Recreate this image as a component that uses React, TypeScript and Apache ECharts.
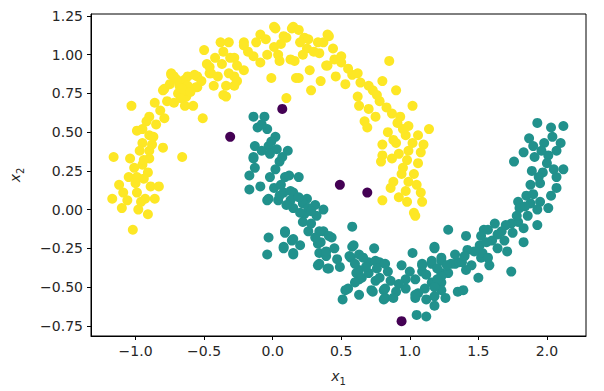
import React, { useEffect, useRef } from "react";
import * as echarts from "echarts";

const xTicks = [-1.0, -0.5, 0.0, 0.5, 1.0, 1.5, 2.0];
const yTicks = [-0.75, -0.5, -0.25, 0.0, 0.25, 0.5, 0.75, 1.0, 1.25];

const classColors = ["#440154", "#21918c", "#fde725"];

const outliers: number[][] = [
  [-0.31, 0.47], [0.07, 0.65], [0.49, 0.16], [0.69, 0.11], [0.94, -0.72],
];

const upperMoon: number[][] = [
  [-1.02, -0.13], [-0.91, -0.03], [-1.1, 0.01], [-1.17, 0.07], [-1.09, 0.11], [-0.99, 0.11], [-0.93, 0.07],
  [-0.89, 0.15], [-0.83, 0.15], [-1.05, 0.21], [-0.99, 0.21], [-0.91, 0.24], [-1.01, 0.27], [-1.04, 0.33],
  [-1.16, 0.34], [-0.9, 0.33], [-0.9, 0.38], [-0.8, 0.4], [-0.66, 0.34], [-0.95, 0.43], [-0.9, 0.48],
  [-0.99, 0.51], [-0.92, 0.57], [-0.9, 0.6], [-0.79, 0.59], [-1.03, 0.67], [-0.86, 0.69], [-0.51, 0.59],
  [-0.8, 0.77], [-0.72, 0.69], [-0.64, 0.67], [-0.58, 0.67], [-0.74, 0.87], [-0.68, 0.8], [-0.63, 0.73],
  [-0.55, 0.79], [-0.62, 0.86], [-0.46, 0.88], [-0.87, 0.47], [-0.97, 0.38], [-0.96, 0.05], [-0.95, 0.29],
  [0.1, 0.72], [0.28, 0.77], [0.17, 0.85], [-0.01, 0.85], [0.27, 0.9], [0.39, 0.93], [-0.5, 1.03],
  [-0.38, 1.08], [-0.32, 1.08], [-0.21, 1.08], [-0.09, 1.13], [0.01, 1.18], [0.15, 1.18], [0.08, 1.12],
  [0.41, 1.12], [0.25, 1.04], [0.37, 1.08], [0.22, 1.0], [0.13, 0.97], [0.04, 1.0], [-0.09, 0.95],
  [-0.14, 0.99], [-0.21, 0.9], [-0.28, 0.86], [-0.34, 0.73], [-0.28, 0.8], [-0.43, 0.8], [-0.45, 0.88],
  [-0.56, 0.79], [-0.69, 0.75], [-0.79, 0.78], [-0.74, 0.88], [-0.64, 0.84], [-0.55, 0.86], [-0.37, 0.94],
  [-0.28, 0.98], [-0.48, 0.94], [0.02, 1.17], [0.14, 1.17], [0.23, 1.11], [0.1, 1.11], [0.01, 1.05],
  [0.05, 0.96], [-0.31, 0.98], [-0.42, 0.98], [-0.46, 0.92], [-0.57, 0.87], [-0.72, 0.86], [-0.75, 0.81],
  [-0.62, 0.8], [-0.67, 0.72], [-0.34, 0.8], [-0.26, 0.83], [-0.36, 0.74], [-0.32, 0.88], [-0.04, 1.0],
  [-0.21, 1.06], [0.19, 1.16], [0.26, 1.1], [0.4, 1.13], [0.33, 1.08], [0.44, 1.04], [0.34, 1.01],
  [0.5, 0.99], [0.16, 0.96], [0.4, 0.93], [0.5, 0.95], [0.85, 0.96], [0.46, 0.86], [0.58, 0.87],
  [0.19, 0.85], [0.35, 0.83], [0.53, 0.81], [0.64, 0.82], [0.8, 0.83], [0.73, 0.77], [0.9, 0.77],
  [0.62, 0.73], [0.78, 0.7], [0.63, 0.67], [1.02, 0.67], [0.7, 0.65], [0.87, 0.62], [0.75, 0.6],
  [0.67, 0.57], [0.91, 0.56], [0.99, 0.54], [0.69, 0.53], [0.84, 0.5], [1.14, 0.52], [1.06, 0.48],
  [0.97, 0.48], [0.8, 0.42], [0.9, 0.43], [1.1, 0.42], [0.99, 0.38], [1.08, 0.37], [0.8, 0.35],
  [0.87, 0.33], [0.79, 0.31], [0.98, 0.32], [0.94, 0.23], [1.03, 0.23], [0.99, 0.18], [1.05, 0.16],
  [0.86, 0.14], [1.08, 0.11], [0.92, 0.08], [0.98, 0.05], [1.09, 0.05], [0.8, 0.06], [1.03, -0.02],
  [1.04, -0.04], [-0.7, 0.84], [-0.66, 0.78], [-0.6, 0.76], [-0.52, 0.83], [-0.4, 0.86], [-0.36, 1.02],
  [-0.26, 0.93], [-0.18, 1.02], [-0.12, 1.08], [-0.05, 1.1], [0.06, 1.07], [0.2, 1.08], [0.3, 1.02],
  [0.45, 0.97], [0.55, 0.91], [0.62, 0.88], [0.7, 0.8], [0.76, 0.74], [0.83, 0.66], [0.93, 0.6],
  [0.95, 0.52], [0.88, 0.45], [0.92, 0.36], [1.02, 0.43], [0.95, 0.27], [1.06, 0.3], [0.88, 0.18],
  [0.97, 0.12], [-0.82, 0.64], [-0.77, 0.7], [-0.85, 0.55], [-0.95, 0.52], [-0.88, 0.42], [-0.94, 0.32],
  [-1.0, 0.17], [-1.06, 0.06], [-0.86, 0.07], [-0.94, 0.2], [-1.12, 0.16], [-0.98, 0.0],
];

const lowerMoon: number[][] = [
  [-0.14, 0.6], [-0.06, 0.6], [-0.11, 0.53], [-0.04, 0.52], [0.02, 0.47], [-0.13, 0.41], [-0.03, 0.41],
  [0.03, 0.39], [0.11, 0.38], [-0.14, 0.34], [-0.02, 0.36], [0.05, 0.31], [-0.13, 0.27], [0.02, 0.26],
  [-0.17, 0.22], [-0.02, 0.21], [0.09, 0.21], [0.19, 0.21], [-0.17, 0.13], [-0.09, 0.15], [0.01, 0.14],
  [0.08, 0.11], [0.15, 0.11], [-0.04, 0.06], [0.04, 0.06], [0.13, 0.06], [0.25, 0.07], [0.15, 0.01],
  [0.22, 0.04], [0.31, 0.03], [0.37, 0.0], [0.23, -0.03], [0.32, -0.04], [0.22, -0.08], [0.58, -0.11],
  [-0.03, -0.18], [0.09, -0.14], [0.26, -0.14], [0.37, -0.14], [0.43, -0.18], [0.08, -0.24], [0.14, -0.2],
  [0.2, -0.23], [0.33, -0.22], [-0.04, -0.29], [0.15, -0.29], [0.34, -0.28], [0.39, -0.3], [0.58, -0.24],
  [0.33, -0.36], [0.4, -0.38], [0.49, -0.37], [0.57, -0.31], [0.61, -0.41], [0.55, -0.51], [0.51, -0.58],
  [0.63, -0.55], [0.63, -0.45], [0.12, 0.22], [-0.14, 0.33], [-0.03, 0.07], [0.05, 0.09], [0.13, 0.12],
  [0.26, 0.01], [0.09, -0.15], [0.15, -0.19], [0.08, -0.25], [0.15, -0.28], [0.34, -0.14], [0.41, -0.17],
  [0.35, -0.21], [0.39, -0.27], [0.34, -0.35], [0.41, -0.38], [0.56, -0.3], [0.63, -0.29], [0.74, -0.25],
  [0.7, -0.34], [0.78, -0.34], [0.84, -0.4], [0.63, -0.39], [0.65, -0.44], [0.75, -0.46], [0.81, -0.52],
  [0.9, -0.53], [0.73, -0.53], [0.81, -0.58], [0.53, -0.52], [0.94, -0.36], [1.02, -0.28], [0.97, -0.51],
  [1.04, -0.45], [1.09, -0.4], [1.16, -0.47], [1.18, -0.25], [1.09, -0.35], [1.16, -0.35], [1.23, -0.31],
  [1.28, -0.13], [1.33, -0.35], [1.04, -0.57], [1.18, -0.56], [1.26, -0.57], [1.18, -0.62], [1.23, -0.47],
  [1.05, -0.68], [1.12, -0.69], [1.23, -0.41], [1.41, -0.17], [1.54, -0.13], [0.59, -0.23], [1.18, -0.24],
  [1.42, -0.26], [1.51, -0.23], [0.66, -0.31], [0.75, -0.33], [0.82, -0.35], [1.09, -0.36], [1.16, -0.33],
  [1.23, -0.33], [1.3, -0.35], [1.36, -0.34], [1.45, -0.36], [1.52, -0.31], [1.58, -0.36], [0.7, -0.41],
  [0.78, -0.44], [1.28, -0.41], [1.41, -0.39], [1.5, -0.44], [0.72, -0.52], [0.82, -0.51], [0.82, -0.57],
  [1.06, -0.54], [1.11, -0.51], [1.23, -0.52], [1.35, -0.53], [1.23, -0.43], [1.93, 0.56], [2.03, 0.53],
  [2.12, 0.54], [1.87, 0.46], [1.98, 0.43], [2.1, 0.43], [1.83, 0.37], [1.91, 0.34], [2.01, 0.35],
  [2.07, 0.38], [1.76, 0.31], [1.89, 0.25], [1.97, 0.24], [2.05, 0.26], [2.12, 0.26], [2.07, 0.21],
  [1.88, 0.16], [1.95, 0.17], [2.07, 0.14], [1.85, 0.09], [2.03, 0.09], [1.79, 0.05], [1.88, 0.04],
  [1.95, 0.05], [1.8, 0.01], [1.93, 0.0], [2.01, 0.01], [1.86, -0.04], [1.79, -0.08], [1.93, -0.1],
  [1.62, -0.09], [1.74, -0.09], [1.57, -0.13], [1.67, -0.14], [1.75, -0.15], [1.83, -0.12], [1.52, -0.17],
  [1.6, -0.2], [1.69, -0.2], [1.83, -0.21], [1.53, -0.28], [1.64, -0.25], [1.71, -0.27], [1.57, -0.31],
  [1.74, -0.4], [1.39, -0.52], [1.2, -0.45], [0.97, -0.45], [1.04, -0.55], [1.38, -0.34],
  [-0.08, 0.55], [-0.01, 0.44], [0.07, 0.34], [-0.08, 0.38], [0.06, 0.16], [0.1, 0.03], [0.19, 0.08],
  [0.28, -0.01], [0.2, -0.02], [0.28, -0.09], [0.31, -0.18], [0.45, -0.25], [0.47, -0.32], [0.6, -0.35],
  [0.68, -0.37], [0.76, -0.38], [0.86, -0.46], [0.92, -0.48], [1.0, -0.4], [1.12, -0.42], [1.2, -0.38],
  [1.27, -0.36], [1.33, -0.29], [1.4, -0.3], [1.47, -0.27], [1.56, -0.21], [1.64, -0.16], [1.7, -0.1],
  [1.78, -0.04], [1.84, 0.02], [1.9, 0.1], [1.94, 0.21], [2.0, 0.3], [1.96, 0.38], [2.04, 0.47],
  [1.9, 0.41], [1.12, -0.58], [1.18, -0.5], [0.88, -0.57], [0.6, -0.47],
];

const FONT = "DejaVu Sans";
const TEXT = "#262626";

const fmtMinus = (s: string) => s.replace("-", "\u2212");

export default function App() {
  const ref = useRef<HTMLDivElement>(null);
  useEffect(() => {
    if (!ref.current) return;
    const chart = echarts.init(ref.current, null, { renderer: "svg" });
    const mkSeries = (data: number[][], color: string) => ({
      type: "scatter",
      data,
      symbol: "circle",
      symbolSize: 10,
      itemStyle: { color, opacity: 1 },
      emphasis: { disabled: true },
    });
    chart.setOption({
      animation: false,
      backgroundColor: "#ffffff",
      grid: {
        left: 86,
        top: 14,
        right: 18,
        bottom: 53,
        show: true,
        borderColor: "#000",
        borderWidth: 1,
        backgroundColor: "transparent",
      },
      xAxis: {
        type: "value",
        min: -1.325,
        max: 2.285,
        name: "{a|x}{b|1}",
        nameLocation: "middle",
        nameGap: 30,
        nameTextStyle: {
          rich: {
            a: { fontFamily: FONT, fontStyle: "italic", fontSize: 14, color: TEXT },
            b: { fontFamily: FONT, fontSize: 10, color: TEXT, padding: [10, 0, 0, 0] },
          },
        },
        axisLine: { show: true, onZero: false, lineStyle: { color: "#000", width: 1 } },
        axisTick: {
          show: true,
          length: 4,
          inside: false,
          customValues: xTicks,
          lineStyle: { color: "#000", width: 1 },
        },
        axisLabel: {
          customValues: xTicks,
          margin: 8,
          fontFamily: FONT,
          fontSize: 14,
          color: TEXT,
          formatter: (v: number) => fmtMinus(v.toFixed(1)),
        },
        splitLine: { show: false },
      },
      yAxis: {
        type: "value",
        min: -0.816,
        max: 1.263,
        name: "{a|x}{b|2}",
        nameLocation: "middle",
        nameGap: 66,
        nameRotate: 90,
        nameTextStyle: {
          rich: {
            a: { fontFamily: FONT, fontStyle: "italic", fontSize: 14, color: TEXT },
            b: { fontFamily: FONT, fontSize: 10, color: TEXT, padding: [10, 0, 0, 0] },
          },
        },
        axisLine: { show: true, onZero: false, lineStyle: { color: "#000", width: 1 } },
        axisTick: {
          show: true,
          length: 4,
          inside: false,
          customValues: yTicks,
          lineStyle: { color: "#000", width: 1 },
        },
        axisLabel: {
          customValues: yTicks,
          margin: 8,
          fontFamily: FONT,
          fontSize: 14,
          color: TEXT,
          formatter: (v: number) => fmtMinus(v.toFixed(2)),
        },
        splitLine: { show: false },
      },
      series: [
        mkSeries(upperMoon, classColors[2]),
        mkSeries(lowerMoon, classColors[1]),
        mkSeries(outliers, classColors[0]),
      ],
    });
    return () => chart.dispose();
  }, []);
  return (
    <div
      ref={ref}
      style={{ position: "fixed", left: 0, top: 0, width: 604, height: 391, background: "#fff" }}
    />
  );
}
